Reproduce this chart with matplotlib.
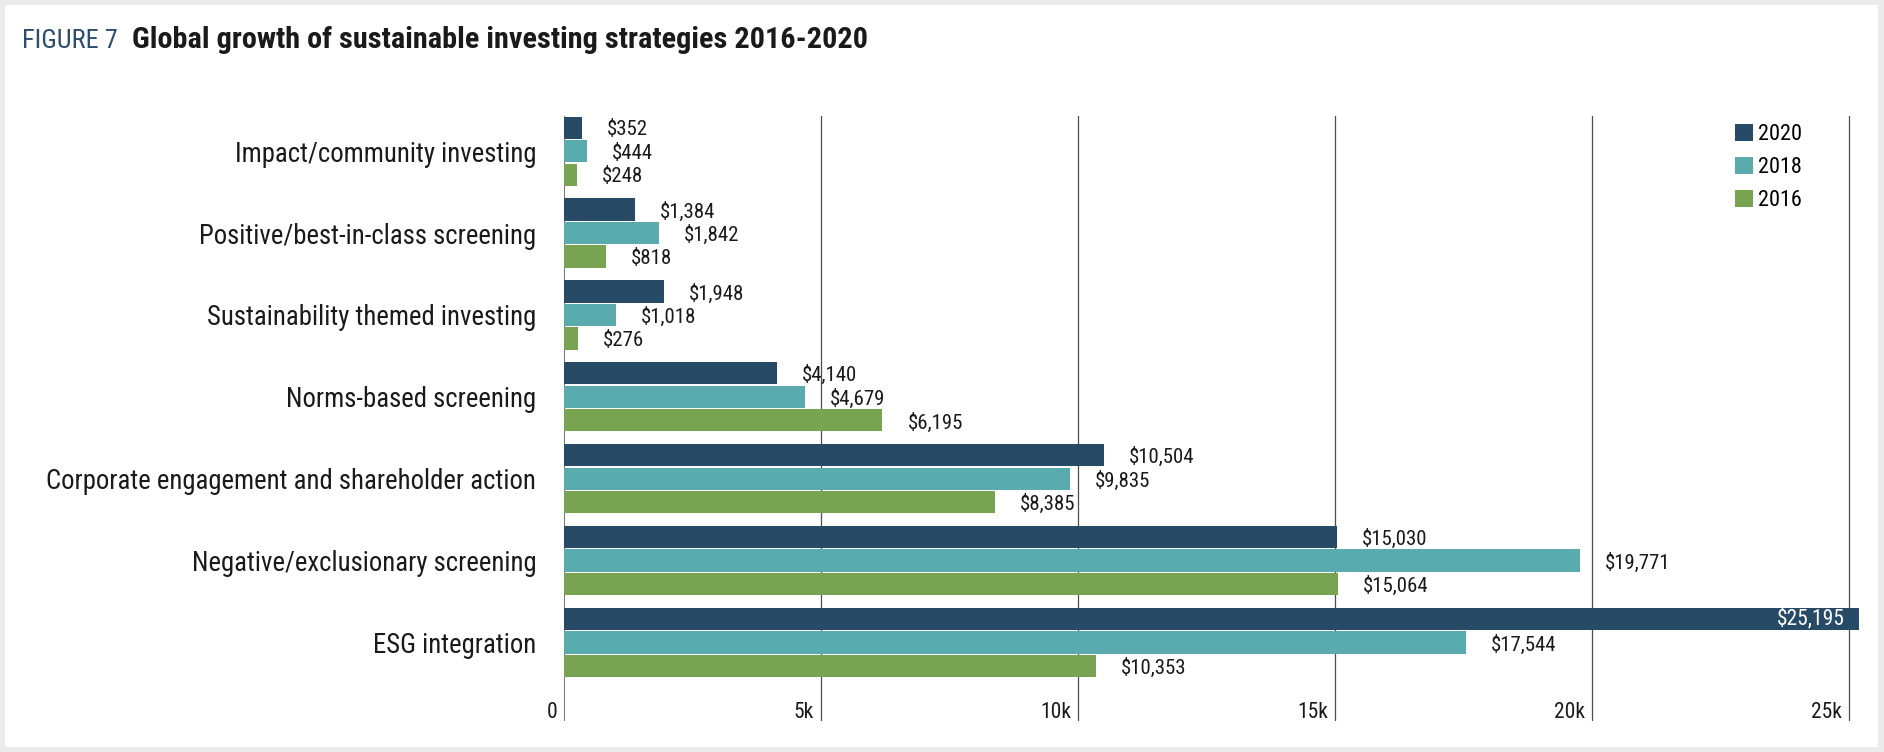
import matplotlib
matplotlib.use('Agg')
import matplotlib.pyplot as plt
import matplotlib.transforms as mtransforms
from matplotlib.patches import Rectangle, Patch
import numpy as np

plt.rcParams['font.family'] = ['Roboto Condensed', 'Liberation Sans Narrow', 'DejaVu Sans']
plt.rcParams['font.stretch'] = 'condensed'

categories = ['Impact/community investing', 'Positive/best-in-class screening',
              'Sustainability themed investing', 'Norms-based screening',
              'Corporate engagement and shareholder action',
              'Negative/exclusionary screening', 'ESG integration']
years = ['2020', '2018', '2016']
v2020 = [352, 1384, 1948, 4140, 10504, 15030, 25195]
v2018 = [444, 1842, 1018, 4679, 9835, 19771, 17544]
v2016 = [248, 818, 276, 6195, 8385, 15064, 10353]
ticks = [0, 5000, 10000, 15000, 20000, 25000]
tick_labels = ['0', '5k', '10k', '15k', '20k', '25k']

colors = ['#274a66', '#59abad', '#78a352']
series = [v2020, v2018, v2016]

W, H = 1884, 752
fig = plt.figure(figsize=(W / 100, H / 100), dpi=100)
fig.patch.set_facecolor('#ebebeb')
fig.patches.append(Rectangle((5 / W, 5 / H), 1873 / W, 742 / H,
                             transform=fig.transFigure, facecolor='white',
                             edgecolor='none', zorder=-10))

ax = fig.add_axes([564 / W, 1 - 721 / H, (1865 - 564) / W, (721 - 116) / H])
ax.set_facecolor('none')

y = np.arange(len(categories))
pitch = 0.2875
h = 0.272
for i, vals in enumerate(series):
    pos = y + (i - 1) * pitch
    ax.barh(pos, vals, height=h, color=colors[i], edgecolor='none', zorder=2,
            label=years[i])
    for p, v in zip(pos, vals):
        txt = '$' + f'{v:,}'
        if v > 24000:
            ax.annotate(txt, (v, p), xytext=(-14, -1), textcoords='offset pixels',
                        ha='right', va='center', fontsize=15.5, color='white',
                        zorder=3)
        else:
            ax.annotate(txt, (v, p), xytext=(25, -2), textcoords='offset pixels',
                        ha='left', va='center', fontsize=15, color='#1a1a1a',
                        zorder=3)

ax.set_xlim(0, 25311)
ax.set_ylim(6.96, -0.43)

for t in ticks:
    ax.axvline(t, color='#4d4d4d', lw=1.1 if t == 0 else 0.9, zorder=1)

trans = mtransforms.blended_transform_factory(ax.transData, ax.transAxes)
for t, lab in zip(ticks, tick_labels):
    ax.annotate(lab, (t, 9 / 605), xycoords=trans, xytext=(-7, 0),
                textcoords='offset pixels', ha='right', va='center',
                fontsize=15.5, color='#1a1a1a')

ax.set_xticks([])
ax.set_yticks(y)
ax.set_yticklabels(categories, fontsize=19.3, color='#1a1a1a')
ax.tick_params(axis='y', length=0, pad=20)
for s in ax.spines.values():
    s.set_visible(False)

handles = [Patch(facecolor=c, edgecolor='none') for c in colors]
ax.legend(handles, years, loc='upper left',
          bbox_to_anchor=(1735 / W, 1 - 124 / H), bbox_transform=fig.transFigure,
          frameon=False, fontsize=16, handlelength=0.8, handleheight=0.8,
          handletextpad=0.25, labelspacing=0.52, borderpad=0, borderaxespad=0)

fig.text(22 / W, 1 - 48 / H, 'FIGURE 7', fontsize=19, color='#2e4d6d',
         va='baseline', ha='left')
fig.text(132 / W, 1 - 48 / H, 'Global growth of sustainable investing strategies 2016-2020',
         fontsize=21.8, fontweight='bold', color='#1a1a1a', va='baseline', ha='left')

fig.savefig('out.png', dpi=100, facecolor=fig.get_facecolor())
